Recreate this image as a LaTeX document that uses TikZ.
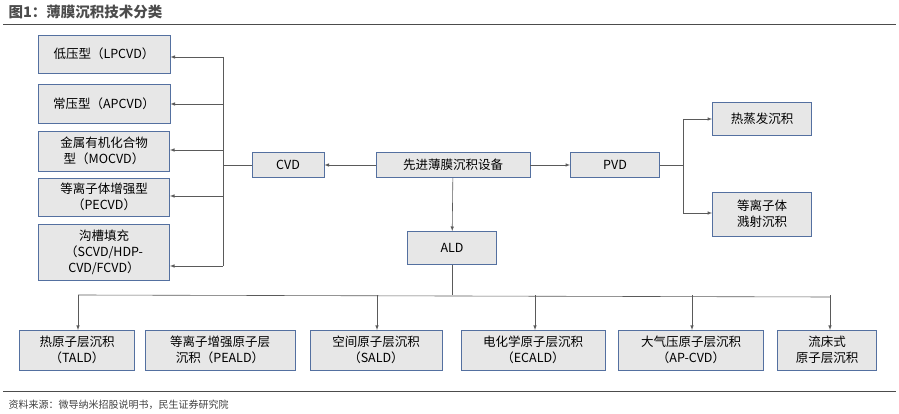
\documentclass[tikz,border=0pt]{standalone}
\usepackage{fontspec}
\setmainfont{Noto Sans CJK SC}
\usetikzlibrary{arrows}
\definecolor{boxgray}{RGB}{231,231,231}
\definecolor{boxblue}{RGB}{84,112,160}
\definecolor{linegray}{RGB}{90,90,90}
\tikzset{
tech/.style = {rectangle, draw=boxblue, fill=boxgray, line width=0.8pt, text centered, inner sep=1pt, font=\fontsize{12.5}{16}\selectfont, align=center},
line/.style = {draw=linegray, line width=0.6pt, -latex},
bus/.style = {draw=linegray, line width=0.6pt},
coord/.style={coordinate}
}
\begin{document}
\begin{tikzpicture}[x=1pt,y=-1pt]
    \useasboundingbox (0,0) rectangle (899,414);
    \node [anchor=west, text=black!70, font=\bfseries\fontsize{14.5}{16}\selectfont] (title) at (5,12) {图1：薄膜沉积技术分类};
    \draw [black!70, line width=1pt] (3,25) -- (896,25);

    \node [tech, minimum width=132, minimum height=38] (lpcvd) at (104,54) {低压型（LPCVD）};
    \node [tech, minimum width=132, minimum height=39] (apcvd) at (104,104) {常压型（APCVD）};
    \node [tech, minimum width=131, minimum height=40] (mocvd) at (104,151) {金属有机化合物\\型（MOCVD）};
    \node [tech, minimum width=131, minimum height=38] (pecvd) at (104,197) {等离子体增强型\\（PECVD）};
    \node [tech, minimum width=131, minimum height=56] (fcvd) at (104,252) {沟槽填充\\（SCVD/HDP-\\CVD/FCVD）};

    \node [tech, minimum width=72, minimum height=25] (cvd) at (288,165) {CVD};
    \node [tech, minimum width=154, minimum height=25] (equip) at (453,165) {先进薄膜沉积设备};
    \node [tech, minimum width=89, minimum height=25] (pvd) at (615,165) {PVD};
    \node [tech, minimum width=89, minimum height=33] (ald) at (452,248) {ALD};

    \node [tech, minimum width=99, minimum height=33] (evap) at (762,119) {热蒸发沉积};
    \node [tech, minimum width=99, minimum height=44] (sputter) at (762,214) {等离子体\\溅射沉积};

    \node [tech, minimum width=115, minimum height=40] (tald) at (77,350) {热原子层沉积\\（TALD）};
    \node [tech, minimum width=150, minimum height=40] (peald) at (220,350) {等离子增强原子层\\沉积（PEALD）};
    \node [tech, minimum width=132, minimum height=40] (sald) at (376,350) {空间原子层沉积\\（SALD）};
    \node [tech, minimum width=144, minimum height=40] (ecald) at (533,350) {电化学原子层沉积\\（ECALD）};
    \node [tech, minimum width=145, minimum height=40] (apald) at (691,350) {大气压原子层沉积\\（AP-CVD）};
    \node [tech, minimum width=99, minimum height=40] (fbald) at (827,350) {流床式\\原子层沉积};

    \node [coord] (cvdbus) at (223,165) {};
    \node [coord] (pvdbus) at (683,165) {};
    \node [coord] (aldbus) at (452,295) {};

    \draw [line] (equip) -- (cvd);
    \draw [line] (equip) -- (pvd);
    \draw [line] (equip) -- (ald);

    \draw [bus] (cvd) -- (cvdbus);
    \draw [bus] (223,57) -- (223,266);
    \foreach \t/\y in {lpcvd/57, apcvd/104, mocvd/150, pecvd/196, fcvd/266}
        \draw [line] (223,\y) -- (\t.east |- 0,\y);

    \draw [bus] (pvd) -- (pvdbus);
    \draw [bus] (683,119) -- (683,213);
    \draw [line] (683,119) -- (evap);
    \draw [line] (683,213) -- (sputter.west |- 0,213);

    \draw [bus] (ald) -- (aldbus);
    \draw [bus] (78,295) -- (830,297);
    \foreach \t/\x in {tald/78, sald/377, ecald/535, apald/692, fbald/830}
        \draw [line] (\x,295) -- (\x,330);

    \draw [black!70, line width=1pt] (3,391) -- (896,391);
    \node [anchor=west, text=black!75, font=\fontsize{10}{12}\selectfont] (source) at (5,405) {资料来源：微导纳米招股说明书，民生证券研究院};
\end{tikzpicture}
\end{document}
